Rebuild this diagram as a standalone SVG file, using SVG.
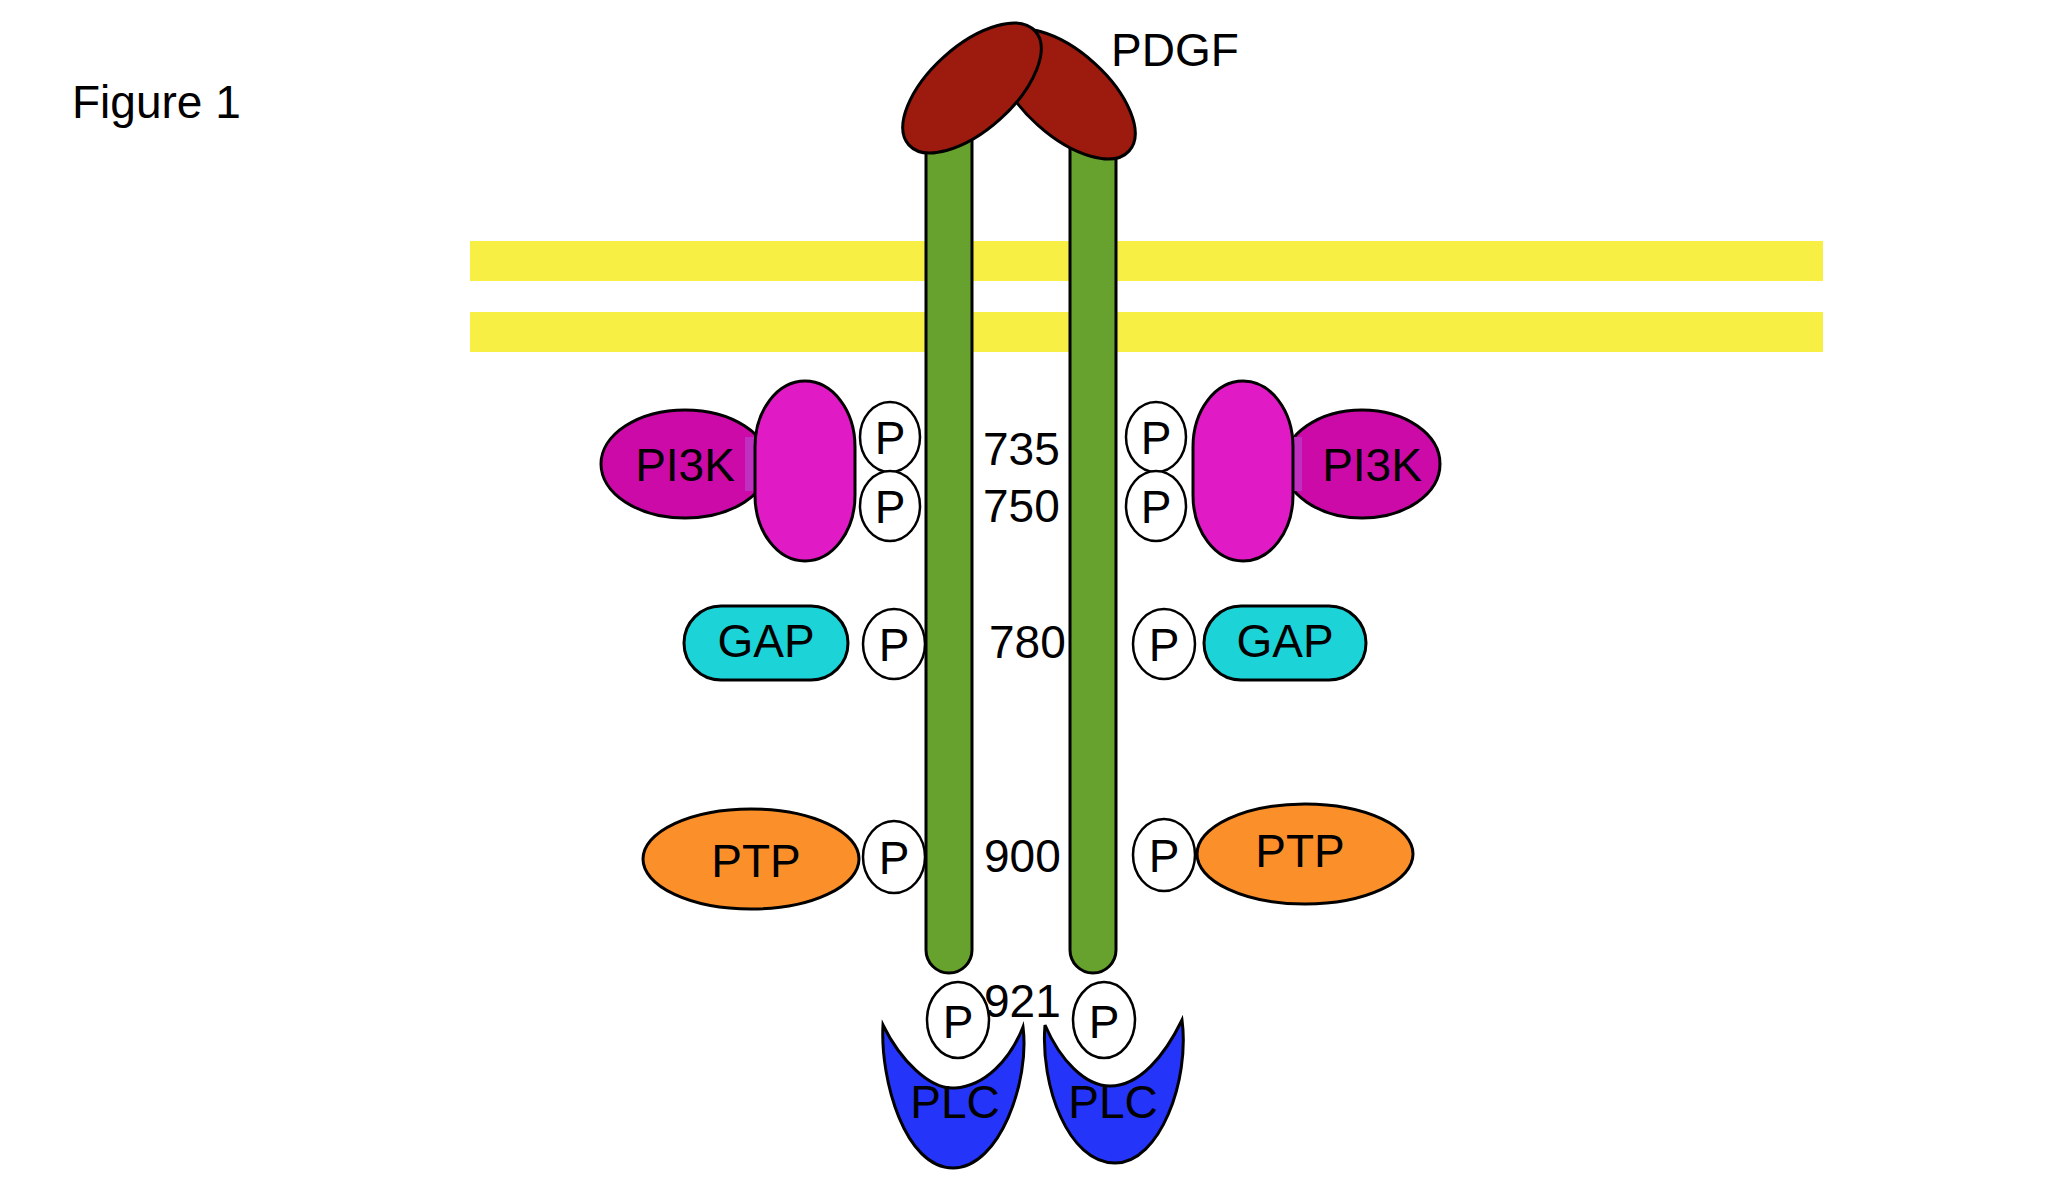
<svg xmlns="http://www.w3.org/2000/svg" width="2046" height="1184" viewBox="0 0 2046 1184">
<style>
text{font-family:"Liberation Sans",Arial,sans-serif;font-size:46px;fill:#000}
.s{stroke:#000;stroke-width:3}
.p{fill:#fff;stroke:#000;stroke-width:2.5}
.bar{fill:#67a22e;stroke:#000;stroke-width:3}
.m{text-anchor:middle}
</style>
<rect width="2046" height="1184" fill="#fff"/>
<text x="72" y="118">Figure 1</text>
<g id="membrane">
<rect x="470" y="241" width="1353" height="40" fill="#f8ef45"/>
<rect x="470" y="312" width="1353" height="40" fill="#f8ef45"/>
</g>
<g id="receptors">
<rect class="bar" x="926" y="110" width="46" height="863" rx="23"/>
<rect class="bar" x="1070" y="110" width="46" height="863" rx="23"/>
</g>
<g id="pdgf">
<ellipse class="s" cx="1066" cy="94" rx="85" ry="42" transform="rotate(42 1066 94)" fill="#9c1a0e"/>
<ellipse class="s" cx="972" cy="88" rx="85" ry="42" transform="rotate(-42 972 88)" fill="#9c1a0e"/>
<text x="1111" y="66">PDGF</text>
</g>
<g id="pi3k-left">
<ellipse class="s" cx="685" cy="464" rx="84" ry="54" fill="#cc0aa8"/>
<rect x="745" y="437" width="14" height="54" fill="#c030c0"/>
<rect class="s" x="755" y="381" width="100" height="180" rx="50" ry="66" fill="#e01ac4"/>
<text x="685" y="481" class="m">PI3K</text>
</g>
<g id="pi3k-right">
<ellipse class="s" cx="1362" cy="464" rx="78" ry="54" fill="#cc0aa8"/>
<rect x="1288" y="437" width="14" height="54" fill="#c030c0"/>
<rect class="s" x="1193" y="381" width="100" height="180" rx="50" ry="66" fill="#e01ac4"/>
<text x="1372" y="481" class="m">PI3K</text>
</g>
<g id="p-sites">
<ellipse class="p" cx="890" cy="437" rx="30" ry="35"/><text x="890" y="454" class="m">P</text>
<ellipse class="p" cx="890" cy="506" rx="30" ry="35"/><text x="890" y="523" class="m">P</text>
<ellipse class="p" cx="1156" cy="437" rx="30" ry="35"/><text x="1156" y="454" class="m">P</text>
<ellipse class="p" cx="1156" cy="506" rx="30" ry="35"/><text x="1156" y="523" class="m">P</text>
<ellipse class="p" cx="894" cy="644" rx="31" ry="35"/><text x="894" y="661" class="m">P</text>
<ellipse class="p" cx="1164" cy="644" rx="31" ry="35"/><text x="1164" y="661" class="m">P</text>
<ellipse class="p" cx="894" cy="857" rx="31" ry="36"/><text x="894" y="874" class="m">P</text>
<ellipse class="p" cx="1164" cy="855" rx="31" ry="36"/><text x="1164" y="872" class="m">P</text>
<ellipse class="p" cx="958" cy="1020" rx="31" ry="38"/><text x="958" y="1038" class="m">P</text>
<ellipse class="p" cx="1104" cy="1020" rx="31" ry="38"/><text x="1104" y="1038" class="m">P</text>
</g>
<g id="labels">
<text x="983" y="465">735</text>
<text x="983" y="522">750</text>
<text x="989" y="658">780</text>
<text x="984" y="872">900</text>
<text x="984" y="1017">921</text>
</g>
<g id="gap-left">
<rect class="s" x="684" y="606" width="164" height="74" rx="37" fill="#1cd4d8"/>
<text x="766" y="657" class="m">GAP</text>
</g>
<g id="gap-right">
<rect class="s" x="1204" y="606" width="162" height="74" rx="37" fill="#1cd4d8"/>
<text x="1285" y="657" class="m">GAP</text>
</g>
<g id="ptp-left">
<ellipse class="s" cx="751" cy="859" rx="108" ry="50" fill="#fb8f2a"/>
<text x="756" y="877" class="m">PTP</text>
</g>
<g id="ptp-right">
<ellipse class="s" cx="1305" cy="854" rx="108" ry="50" fill="#fb8f2a"/>
<text x="1300" y="867" class="m">PTP</text>
</g>
<g id="plc-left">
<path class="s" fill="#2434f8" d="M883,1025 C900,1060 930,1090 955,1088 C985,1086 1010,1060 1023,1027 C1030,1080 1000,1168 953,1168 C905,1168 880,1080 883,1025 Z"/>
<text x="955" y="1118" class="m">PLC</text>
</g>
<g id="plc-right">
<path class="s" fill="#2434f8" d="M1045,1025 C1060,1060 1085,1086 1110,1086 C1140,1086 1165,1055 1182,1020 C1190,1080 1160,1163 1115,1163 C1068,1163 1040,1085 1045,1025 Z"/>
<text x="1113" y="1118" class="m">PLC</text>
</g>
<g id="connectors"></g>
</svg>
